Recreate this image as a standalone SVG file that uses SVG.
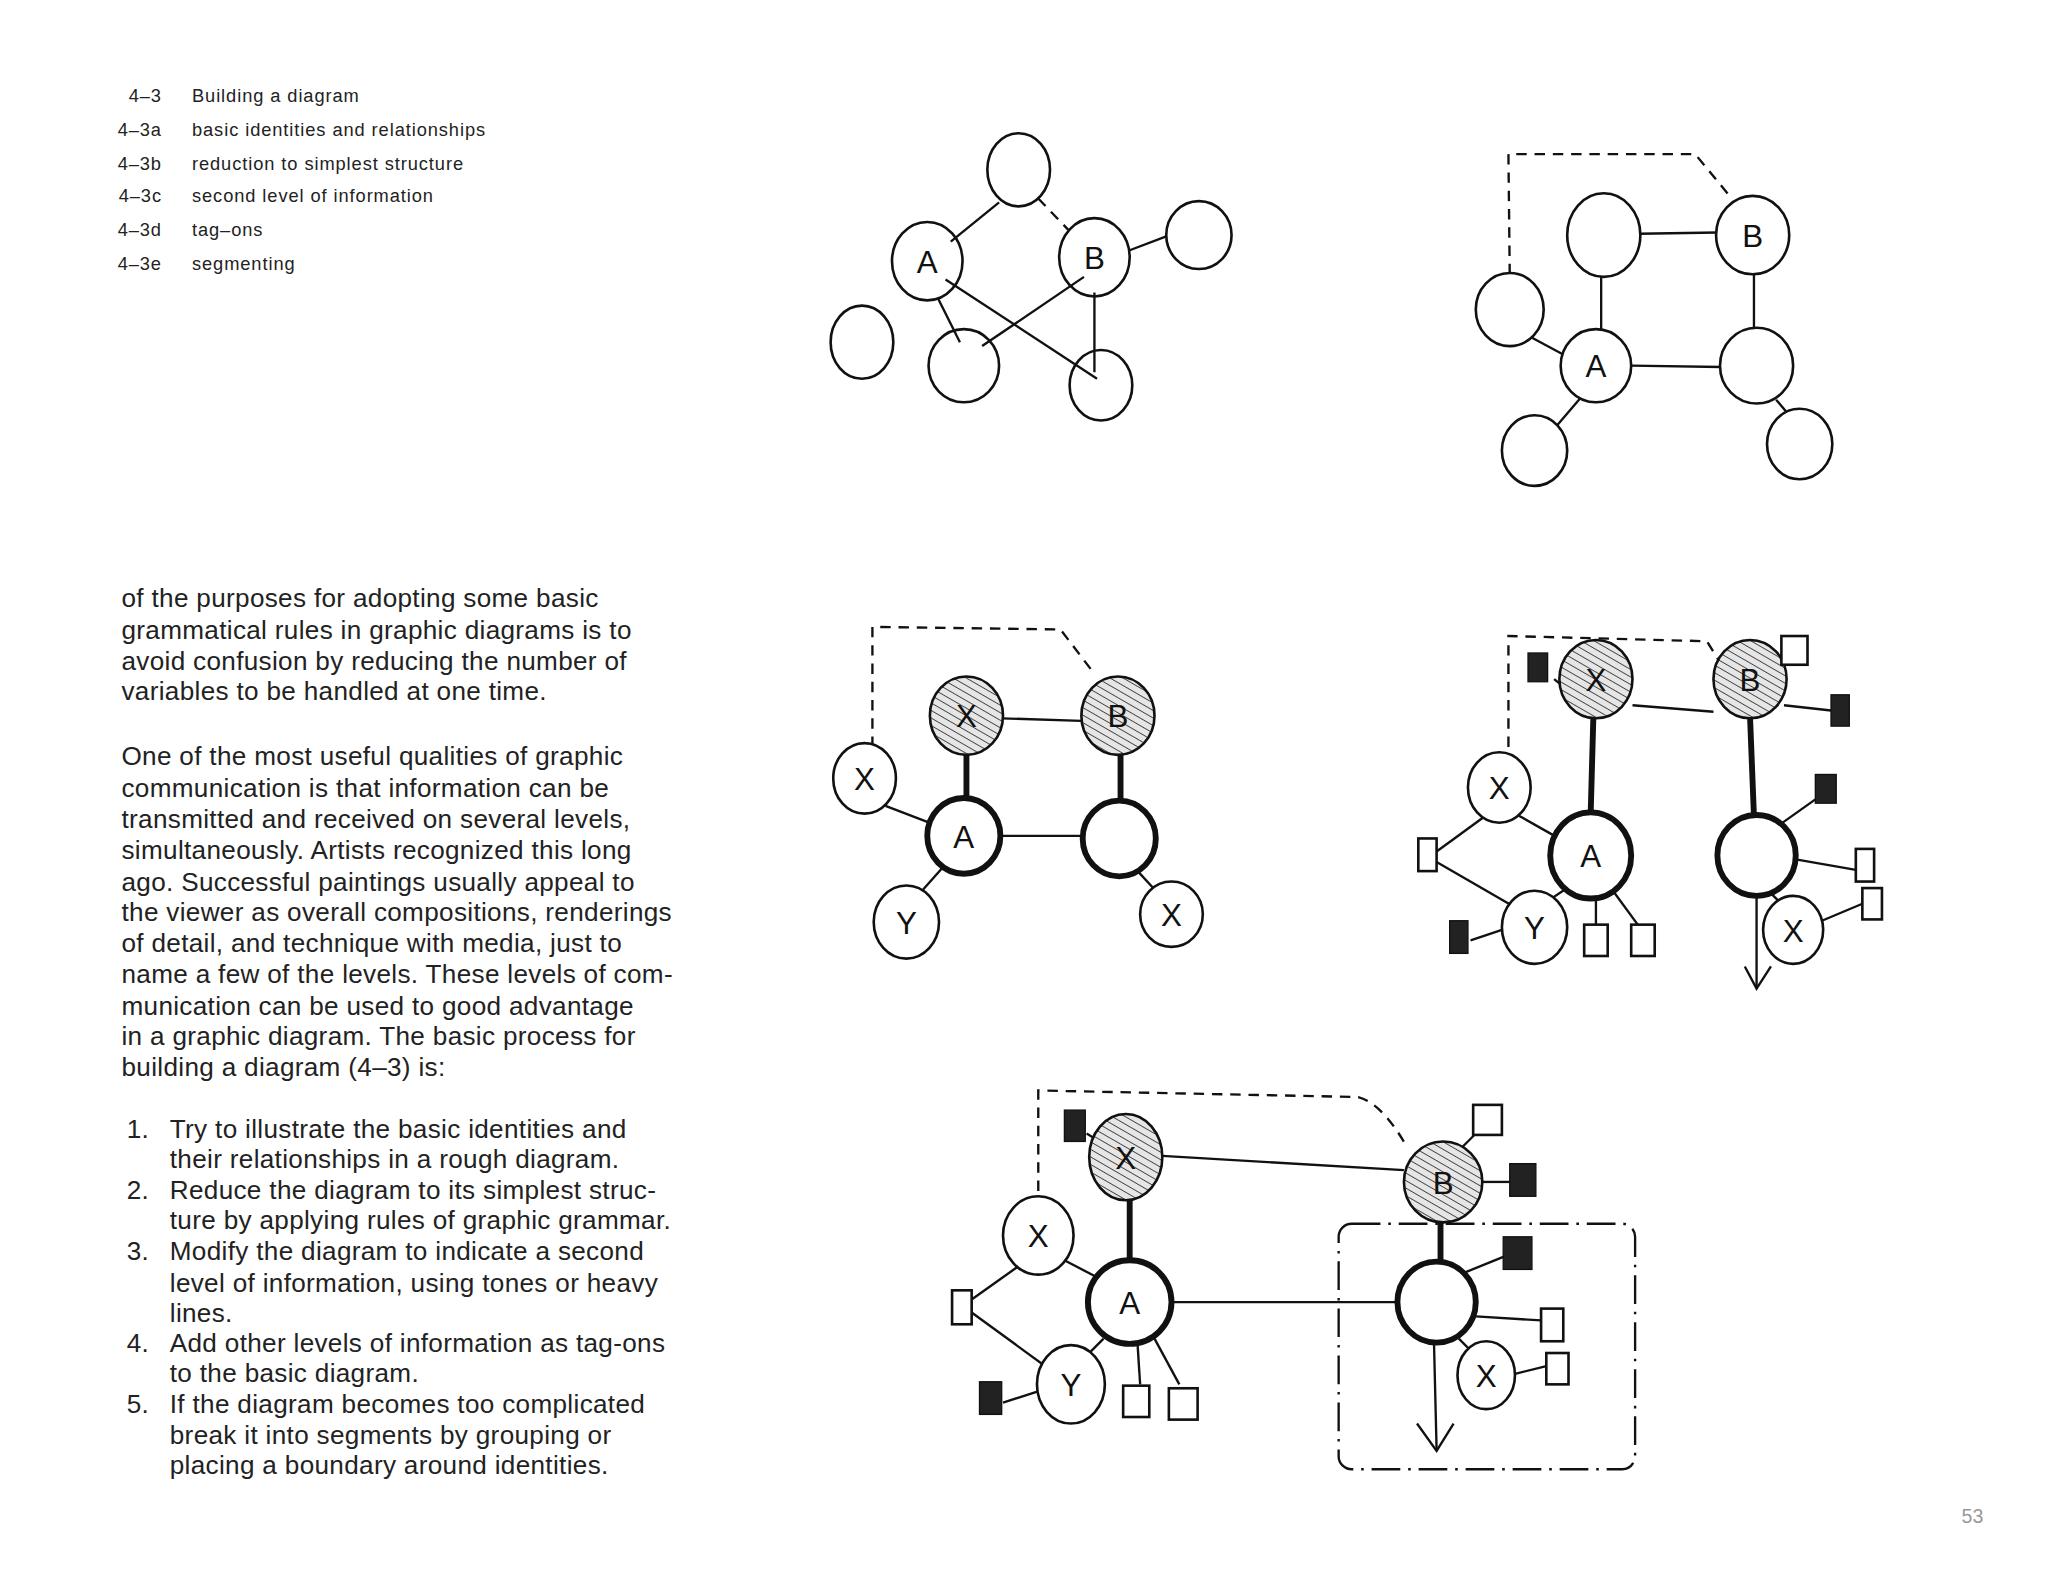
<svg xmlns="http://www.w3.org/2000/svg" width="2048" height="1584" viewBox="0 0 2048 1584">
<style>
.t{font-family:"Liberation Sans",Arial,sans-serif;font-size:20px;letter-spacing:0.25px;fill:#222}
.c{font-family:"Liberation Sans",Arial,sans-serif;font-size:14px;letter-spacing:0.7px;fill:#222}
.n{fill:#fff;stroke:#111;stroke-width:2}
.h{fill:url(#hatch);stroke:#111;stroke-width:2}
.k{fill:#fff;stroke:#111;stroke-width:4.5}
.l{stroke:#111;stroke-width:1.8;fill:none}
.L{stroke:#111;stroke-width:4.5;fill:none}
.d{stroke:#111;stroke-width:1.8;fill:none;stroke-dasharray:8 6}
.dd{stroke:#111;stroke-width:1.8;fill:none;stroke-dasharray:22 6 2 6}
.b{fill:#222;stroke:#111;stroke-width:1}
.w{fill:#fff;stroke:#111;stroke-width:2}
.lab{font-family:"Liberation Sans",Arial,sans-serif;font-size:24px;fill:#111;text-anchor:middle}
</style>
<defs>
<pattern id="hatch" width="5" height="5" patternUnits="userSpaceOnUse" patternTransform="rotate(-60)">
<rect width="5" height="5" fill="#e6e6e6"/><line x1="0" y1="0" x2="0" y2="5" stroke="#333" stroke-width="1.3"/>
</pattern>
</defs>
<rect width="2048" height="1584" fill="#fff"/>
<g transform="scale(1.306)">
<g id="captions">
<text class="c" x="124" y="78" text-anchor="end">4–3</text><text class="c" x="147" y="78">Building a diagram</text>
<text class="c" x="124" y="104" text-anchor="end">4–3a</text><text class="c" x="147" y="104">basic identities and relationships</text>
<text class="c" x="124" y="130" text-anchor="end">4–3b</text><text class="c" x="147" y="130">reduction to simplest structure</text>
<text class="c" x="124" y="155" text-anchor="end">4–3c</text><text class="c" x="147" y="155">second level of information</text>
<text class="c" x="124" y="181" text-anchor="end">4–3d</text><text class="c" x="147" y="181">tag–ons</text>
<text class="c" x="124" y="207" text-anchor="end">4–3e</text><text class="c" x="147" y="207">segmenting</text>
</g>
<g id="body">
<text class="t" x="93" y="465">of the purposes for adopting some basic</text>
<text class="t" x="93" y="489">grammatical rules in graphic diagrams is to</text>
<text class="t" x="93" y="513">avoid confusion by reducing the number of</text>
<text class="t" x="93" y="536">variables to be handled at one time.</text>
<text class="t" x="93" y="586">One of the most useful qualities of graphic</text>
<text class="t" x="93" y="610">communication is that information can be</text>
<text class="t" x="93" y="634">transmitted and received on several levels,</text>
<text class="t" x="93" y="658">simultaneously. Artists recognized this long</text>
<text class="t" x="93" y="682">ago. Successful paintings usually appeal to</text>
<text class="t" x="93" y="705">the viewer as overall compositions, renderings</text>
<text class="t" x="93" y="729">of detail, and technique with media, just to</text>
<text class="t" x="93" y="753">name a few of the levels. These levels of com-</text>
<text class="t" x="93" y="777">munication can be used to good advantage</text>
<text class="t" x="93" y="800">in a graphic diagram. The basic process for</text>
<text class="t" x="93" y="824">building a diagram (4–3) is:</text>
<text class="t" x="97" y="871">1.</text><text class="t" x="130" y="871">Try to illustrate the basic identities and</text>
<text class="t" x="130" y="894">their relationships in a rough diagram.</text>
<text class="t" x="97" y="918">2.</text><text class="t" x="130" y="918">Reduce the diagram to its simplest struc-</text>
<text class="t" x="130" y="941">ture by applying rules of graphic grammar.</text>
<text class="t" x="97" y="965">3.</text><text class="t" x="130" y="965">Modify the diagram to indicate a second</text>
<text class="t" x="130" y="989">level of information, using tones or heavy</text>
<text class="t" x="130" y="1012">lines.</text>
<text class="t" x="97" y="1035">4.</text><text class="t" x="130" y="1035">Add other levels of information as tag-ons</text>
<text class="t" x="130" y="1058">to the basic diagram.</text>
<text class="t" x="97" y="1082">5.</text><text class="t" x="130" y="1082">If the diagram becomes too complicated</text>
<text class="t" x="130" y="1106">break it into segments by grouping or</text>
<text class="t" x="130" y="1129">placing a boundary around identities.</text>
<text x="1502" y="1166" style="font-family:'Liberation Sans',sans-serif;font-size:15px;fill:#999">53</text>
</g>

<g id="diagram-a">
<g id="a-connectors">
<line class="l" x1="765" y1="155" x2="728" y2="185"/>
<line class="d" x1="795" y1="152" x2="818" y2="176"/>
<line class="l" x1="864" y1="192" x2="893" y2="181"/>
<line class="l" x1="718" y1="228" x2="735" y2="262"/>
<line class="l" x1="724" y1="214" x2="840" y2="290"/>
<line class="l" x1="830" y1="212" x2="752" y2="265"/>
<line class="l" x1="838" y1="224" x2="838" y2="285"/>
</g>
<g id="a-top"><ellipse class="n" cx="780" cy="130" rx="24" ry="28" fill-opacity="0"/></g>
<g id="a-A"><ellipse class="n" cx="710" cy="200" rx="27" ry="30" fill-opacity="0"/><text class="lab" x="710" y="209">A</text></g>
<g id="a-B"><ellipse class="n" cx="838" cy="197" rx="27" ry="30" fill-opacity="0"/><text class="lab" x="838" y="206">B</text></g>
<g id="a-r"><ellipse class="n" cx="918" cy="180" rx="25" ry="26"/></g>
<g id="a-l"><ellipse class="n" cx="660" cy="262" rx="24" ry="28"/></g>
<g id="a-bm"><ellipse class="n" cx="738" cy="280" rx="27" ry="28" fill-opacity="0"/></g>
<g id="a-br"><ellipse class="n" cx="843" cy="295" rx="24" ry="27" fill-opacity="0"/></g>
</g>

<g id="diagram-b">
<g id="b-connectors">
<polyline class="d" points="1156,210 1155,118 1298,118 1326,152"/>
<line class="l" x1="1255" y1="179" x2="1315" y2="178"/>
<line class="l" x1="1226" y1="212" x2="1226" y2="253"/>
<line class="l" x1="1343" y1="210" x2="1343" y2="253"/>
<line class="l" x1="1172" y1="258" x2="1198" y2="272"/>
<line class="l" x1="1249" y1="280" x2="1318" y2="281"/>
<line class="l" x1="1210" y1="305" x2="1192" y2="326"/>
<line class="l" x1="1360" y1="306" x2="1370" y2="318"/>
</g>
<g id="b-tl"><ellipse class="n" cx="1228" cy="180" rx="28" ry="32"/></g>
<g id="b-B"><ellipse class="n" cx="1342" cy="180" rx="28" ry="30"/><text class="lab" x="1342" y="189">B</text></g>
<g id="b-l"><ellipse class="n" cx="1156" cy="237" rx="26" ry="28"/></g>
<g id="b-A"><ellipse class="n" cx="1222" cy="280" rx="27" ry="28"/><text class="lab" x="1222" y="289">A</text></g>
<g id="b-rm"><ellipse class="n" cx="1345" cy="280" rx="28" ry="29"/></g>
<g id="b-bl"><ellipse class="n" cx="1175" cy="345" rx="25" ry="27"/></g>
<g id="b-br"><ellipse class="n" cx="1378" cy="340" rx="25" ry="27"/></g>
</g>

<g id="diagram-c">
<g id="c-connectors">
<polyline class="d" points="668,572 668,480 812,482 838,516"/>
<line class="l" x1="767" y1="550" x2="828" y2="552"/>
<line class="L" x1="740" y1="576" x2="740" y2="612"/>
<line class="L" x1="858" y1="576" x2="858" y2="614"/>
<line class="l" x1="678" y1="617" x2="712" y2="630"/>
<line class="l" x1="767" y1="640" x2="829" y2="640"/>
<line class="l" x1="722" y1="664" x2="706" y2="682"/>
<line class="l" x1="872" y1="668" x2="883" y2="680"/>
</g>
<g id="c-X"><ellipse class="h" cx="740" cy="548" rx="28" ry="30"/><text class="lab" x="740" y="557">X</text></g>
<g id="c-B"><ellipse class="h" cx="856" cy="548" rx="28" ry="30"/><text class="lab" x="856" y="557">B</text></g>
<g id="c-x1"><ellipse class="n" cx="662" cy="596" rx="24" ry="27"/><text class="lab" x="662" y="605">X</text></g>
<g id="c-A"><ellipse class="k" cx="738" cy="640" rx="28" ry="29"/><text class="lab" x="738" y="649">A</text></g>
<g id="c-r"><ellipse class="k" cx="857" cy="642" rx="28" ry="29"/></g>
<g id="c-Y"><ellipse class="n" cx="694" cy="706" rx="25" ry="28"/><text class="lab" x="694" y="715">Y</text></g>
<g id="c-x2"><ellipse class="n" cx="897" cy="700" rx="24" ry="25"/><text class="lab" x="897" y="709">X</text></g>
</g>

<g id="diagram-d">
<g id="d-connectors">
<polyline class="d" points="1155,572 1155,487 1307,491 1326,522"/>
<line class="l" x1="1190" y1="520" x2="1200" y2="528"/>
<line class="l" x1="1250" y1="540" x2="1312" y2="545"/>
<line class="L" x1="1220" y1="550" x2="1218" y2="622"/>
<line class="L" x1="1340" y1="549" x2="1343" y2="625"/>
<line class="l" x1="1355" y1="496" x2="1370" y2="508"/>
<line class="l" x1="1366" y1="540" x2="1402" y2="544"/>
<line class="l" x1="1362" y1="632" x2="1393" y2="610"/>
<line class="l" x1="1162" y1="624" x2="1192" y2="641"/>
<line class="l" x1="1137" y1="625" x2="1100" y2="652"/>
<line class="l" x1="1100" y1="660" x2="1157" y2="693"/>
<line class="l" x1="1200" y1="680" x2="1185" y2="690"/>
<line class="l" x1="1222" y1="687" x2="1222" y2="708"/>
<line class="l" x1="1235" y1="682" x2="1254" y2="708"/>
<line class="l" x1="1150" y1="712" x2="1126" y2="720"/>
<line class="l" x1="1375" y1="658" x2="1421" y2="666"/>
<line class="l" x1="1356" y1="684" x2="1362" y2="690"/>
<line class="l" x1="1395" y1="705" x2="1426" y2="692"/>
<line class="l" x1="1345" y1="686" x2="1345" y2="756"/>
<polyline class="l" points="1336,740 1345,757 1356,740"/>
</g>
<g id="d-bs1"><rect class="b" x="1170" y="500" width="15" height="22"/></g>
<g id="d-X"><ellipse class="h" cx="1222" cy="520" rx="28" ry="30"/><text class="lab" x="1222" y="529">X</text></g>
<g id="d-B"><ellipse class="h" cx="1340" cy="520" rx="28" ry="30"/><text class="lab" x="1340" y="529">B</text></g>
<g id="d-ws1"><rect class="w" x="1364" y="487" width="20" height="22"/></g>
<g id="d-bs2"><rect class="b" x="1402" y="532" width="14" height="24"/></g>
<g id="d-bs3"><rect class="b" x="1390" y="593" width="16" height="22"/></g>
<g id="d-x1"><ellipse class="n" cx="1148" cy="603" rx="24" ry="27"/><text class="lab" x="1148" y="612">X</text></g>
<g id="d-A"><ellipse class="k" cx="1218" cy="655" rx="31" ry="33"/><text class="lab" x="1218" y="664">A</text></g>
<g id="d-r"><ellipse class="k" cx="1345" cy="655" rx="30" ry="31"/></g>
<g id="d-ws2"><rect class="w" x="1086" y="642" width="14" height="25"/></g>
<g id="d-Y"><ellipse class="n" cx="1175" cy="710" rx="25" ry="28"/><text class="lab" x="1175" y="719">Y</text></g>
<g id="d-bs4"><rect class="b" x="1110" y="705" width="14" height="25"/></g>
<g id="d-ws3"><rect class="w" x="1213" y="708" width="18" height="24"/></g>
<g id="d-ws4"><rect class="w" x="1249" y="708" width="18" height="24"/></g>
<g id="d-ws5"><rect class="w" x="1421" y="650" width="14" height="25"/></g>
<g id="d-ws6"><rect class="w" x="1426" y="680" width="15" height="24"/></g>
<g id="d-x2"><ellipse class="n" cx="1373" cy="712" rx="23" ry="26"/><text class="lab" x="1373" y="721">X</text></g>
</g>

<g id="diagram-e">
<g id="e-connectors">
<path class="d" d="M795,912 L795,835 L1040,840 Q1058,845 1076,876"/>
<rect class="dd" x="1025" y="937" width="227" height="188" rx="10"/>
<line class="l" x1="832" y1="868" x2="842" y2="874"/>
<line class="l" x1="890" y1="885" x2="1075" y2="896"/>
<line class="L" x1="865" y1="918" x2="865" y2="965"/>
<line class="L" x1="1103" y1="935" x2="1103" y2="967"/>
<line class="l" x1="897" y1="997" x2="1070" y2="997"/>
<line class="l" x1="815" y1="965" x2="840" y2="978"/>
<line class="l" x1="782" y1="968" x2="744" y2="995"/>
<line class="l" x1="744" y1="1005" x2="803" y2="1048"/>
<line class="l" x1="845" y1="1025" x2="833" y2="1037"/>
<line class="l" x1="871" y1="1029" x2="873" y2="1060"/>
<line class="l" x1="884" y1="1025" x2="903" y2="1060"/>
<line class="l" x1="796" y1="1065" x2="768" y2="1074"/>
<line class="l" x1="1118" y1="880" x2="1132" y2="866"/>
<line class="l" x1="1135" y1="905" x2="1156" y2="905"/>
<line class="l" x1="1120" y1="975" x2="1152" y2="962"/>
<line class="l" x1="1130" y1="1008" x2="1180" y2="1011"/>
<line class="l" x1="1117" y1="1025" x2="1127" y2="1035"/>
<line class="l" x1="1160" y1="1052" x2="1184" y2="1046"/>
<line class="l" x1="1098" y1="1028" x2="1100" y2="1110"/>
<polyline class="l" points="1085,1090 1100,1111 1113,1090"/>
</g>
<g id="e-bs1"><rect class="b" x="815" y="850" width="16" height="24"/></g>
<g id="e-X"><ellipse class="h" cx="862" cy="886" rx="28" ry="33"/><text class="lab" x="862" y="895">X</text></g>
<g id="e-B"><ellipse class="h" cx="1105" cy="905" rx="30" ry="31"/><text class="lab" x="1105" y="914">B</text></g>
<g id="e-ws1"><rect class="w" x="1128" y="846" width="22" height="23"/></g>
<g id="e-bs2"><rect class="b" x="1156" y="891" width="20" height="25"/></g>
<g id="e-x1"><ellipse class="n" cx="795" cy="946" rx="27" ry="30"/><text class="lab" x="795" y="955">X</text></g>
<g id="e-A"><ellipse class="k" cx="865" cy="997" rx="32" ry="32"/><text class="lab" x="865" y="1006">A</text></g>
<g id="e-bs3"><rect class="b" x="1151" y="947" width="22" height="25"/></g>
<g id="e-r"><ellipse class="k" cx="1100" cy="997" rx="30" ry="31"/></g>
<g id="e-ws2"><rect class="w" x="729" y="988" width="15" height="26"/></g>
<g id="e-Y"><ellipse class="n" cx="820" cy="1060" rx="26" ry="30"/><text class="lab" x="820" y="1069">Y</text></g>
<g id="e-bs4"><rect class="b" x="750" y="1058" width="17" height="25"/></g>
<g id="e-ws3"><rect class="w" x="860" y="1061" width="20" height="24"/></g>
<g id="e-ws4"><rect class="w" x="895" y="1063" width="22" height="24"/></g>
<g id="e-ws5"><rect class="w" x="1180" y="1002" width="17" height="25"/></g>
<g id="e-ws6"><rect class="w" x="1184" y="1036" width="17" height="24"/></g>
<g id="e-x2"><ellipse class="n" cx="1138" cy="1053" rx="22" ry="26"/><text class="lab" x="1138" y="1062">X</text></g>
</g>
</g>
</svg>
